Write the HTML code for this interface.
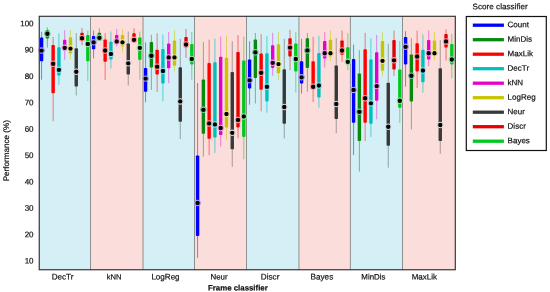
<!DOCTYPE html><html><head><meta charset="utf-8"><title>Boxplot</title>
<style>html,body{margin:0;padding:0;background:#fff}svg{display:block}text{font-family:"Liberation Sans",sans-serif;fill:#111;stroke:#111;stroke-width:0.2px;text-rendering:geometricPrecision}</style></head><body>
<svg width="550" height="292" viewBox="0 0 550 292">
<rect x="0" y="0" width="550" height="292" fill="#ffffff"/>
<rect x="39.00" y="16.30" width="51.50" height="253.45" fill="#d5eff6"/>
<rect x="90.50" y="16.30" width="52.50" height="253.45" fill="#fbdedb"/>
<rect x="143.00" y="16.30" width="51.50" height="253.45" fill="#d5eff6"/>
<rect x="194.50" y="16.30" width="52.00" height="253.45" fill="#fbdedb"/>
<rect x="246.50" y="16.30" width="52.45" height="253.45" fill="#d5eff6"/>
<rect x="298.95" y="16.30" width="51.45" height="253.45" fill="#fbdedb"/>
<rect x="350.40" y="16.30" width="52.10" height="253.45" fill="#d5eff6"/>
<rect x="402.50" y="16.30" width="52.80" height="253.45" fill="#fbdedb"/>
<line x1="90.50" y1="16.30" x2="90.50" y2="269.75" stroke="#858585" stroke-width="0.9"/>
<line x1="143.00" y1="16.30" x2="143.00" y2="269.75" stroke="#858585" stroke-width="0.9"/>
<line x1="194.50" y1="16.30" x2="194.50" y2="269.75" stroke="#858585" stroke-width="0.9"/>
<line x1="246.50" y1="16.30" x2="246.50" y2="269.75" stroke="#858585" stroke-width="0.9"/>
<line x1="298.95" y1="16.30" x2="298.95" y2="269.75" stroke="#858585" stroke-width="0.9"/>
<line x1="350.40" y1="16.30" x2="350.40" y2="269.75" stroke="#858585" stroke-width="0.9"/>
<line x1="402.50" y1="16.30" x2="402.50" y2="269.75" stroke="#858585" stroke-width="0.9"/>
<line x1="41.59" y1="31.80" x2="41.59" y2="79.70" stroke="#0000ff" stroke-opacity="0.47" stroke-width="1"/>
<rect x="39.89" y="37.50" width="3.40" height="23.70" rx="0.8" fill="#0000ff"/>
<line x1="47.37" y1="27.40" x2="47.37" y2="47.60" stroke="#088a10" stroke-opacity="0.52" stroke-width="1"/>
<rect x="45.67" y="29.90" width="3.40" height="8.50" rx="0.8" fill="#088a10"/>
<line x1="53.14" y1="36.90" x2="53.14" y2="121.20" stroke="#ff0000" stroke-opacity="0.50" stroke-width="1"/>
<rect x="51.44" y="44.90" width="3.40" height="48.40" rx="0.8" fill="#ff0000"/>
<line x1="58.92" y1="33.30" x2="58.92" y2="84.80" stroke="#00bfc0" stroke-opacity="0.62" stroke-width="1"/>
<rect x="57.22" y="47.30" width="3.40" height="28.20" rx="0.8" fill="#00bfc0"/>
<line x1="64.70" y1="30.30" x2="64.70" y2="59.90" stroke="#e600cc" stroke-opacity="0.45" stroke-width="1"/>
<rect x="63.00" y="39.80" width="3.40" height="9.90" rx="0.8" fill="#e600cc"/>
<line x1="70.48" y1="29.90" x2="70.48" y2="59.30" stroke="#c8c400" stroke-opacity="0.52" stroke-width="1"/>
<rect x="68.78" y="37.30" width="3.40" height="16.20" rx="0.8" fill="#c8c400"/>
<line x1="76.26" y1="33.10" x2="76.26" y2="95.40" stroke="#383838" stroke-opacity="0.42" stroke-width="1"/>
<rect x="74.56" y="48.30" width="3.40" height="38.20" rx="0.8" fill="#383838"/>
<line x1="82.03" y1="28.00" x2="82.03" y2="45.20" stroke="#e80000" stroke-opacity="0.50" stroke-width="1"/>
<rect x="80.33" y="32.80" width="3.40" height="7.20" rx="0.8" fill="#e80000"/>
<line x1="87.81" y1="30.50" x2="87.81" y2="81.00" stroke="#00c81e" stroke-opacity="0.52" stroke-width="1"/>
<rect x="86.11" y="35.00" width="3.40" height="26.20" rx="0.8" fill="#00c81e"/>
<line x1="93.59" y1="30.50" x2="93.59" y2="58.30" stroke="#0000ff" stroke-opacity="0.47" stroke-width="1"/>
<rect x="91.89" y="35.90" width="3.40" height="13.40" rx="0.8" fill="#0000ff"/>
<line x1="99.37" y1="28.30" x2="99.37" y2="40.50" stroke="#088a10" stroke-opacity="0.52" stroke-width="1"/>
<rect x="97.67" y="32.80" width="3.40" height="6.70" rx="0.8" fill="#088a10"/>
<line x1="105.14" y1="33.10" x2="105.14" y2="80.00" stroke="#ff0000" stroke-opacity="0.50" stroke-width="1"/>
<rect x="103.44" y="39.50" width="3.40" height="22.30" rx="0.8" fill="#ff0000"/>
<line x1="110.92" y1="31.60" x2="110.92" y2="68.40" stroke="#00bfc0" stroke-opacity="0.62" stroke-width="1"/>
<rect x="109.22" y="41.70" width="3.40" height="17.80" rx="0.8" fill="#00bfc0"/>
<line x1="116.70" y1="29.00" x2="116.70" y2="46.50" stroke="#e600cc" stroke-opacity="0.45" stroke-width="1"/>
<rect x="115.00" y="35.00" width="3.40" height="8.90" rx="0.8" fill="#e600cc"/>
<line x1="122.48" y1="29.00" x2="122.48" y2="52.70" stroke="#c8c400" stroke-opacity="0.52" stroke-width="1"/>
<rect x="120.78" y="35.00" width="3.40" height="11.50" rx="0.8" fill="#c8c400"/>
<line x1="128.26" y1="31.60" x2="128.26" y2="85.50" stroke="#383838" stroke-opacity="0.42" stroke-width="1"/>
<rect x="126.56" y="43.50" width="3.40" height="31.00" rx="0.8" fill="#383838"/>
<line x1="134.03" y1="28.30" x2="134.03" y2="42.50" stroke="#e80000" stroke-opacity="0.50" stroke-width="1"/>
<rect x="132.33" y="33.30" width="3.40" height="8.10" rx="0.8" fill="#e80000"/>
<line x1="139.81" y1="31.60" x2="139.81" y2="79.70" stroke="#00c81e" stroke-opacity="0.52" stroke-width="1"/>
<rect x="138.11" y="37.50" width="3.40" height="22.40" rx="0.8" fill="#00c81e"/>
<line x1="145.59" y1="42.30" x2="145.59" y2="102.30" stroke="#0000ff" stroke-opacity="0.47" stroke-width="1"/>
<rect x="143.89" y="68.00" width="3.40" height="23.70" rx="0.8" fill="#0000ff"/>
<line x1="151.37" y1="34.80" x2="151.37" y2="89.90" stroke="#088a10" stroke-opacity="0.52" stroke-width="1"/>
<rect x="149.67" y="42.10" width="3.40" height="25.40" rx="0.8" fill="#088a10"/>
<line x1="157.14" y1="33.20" x2="157.14" y2="91.80" stroke="#ff0000" stroke-opacity="0.50" stroke-width="1"/>
<rect x="155.44" y="49.80" width="3.40" height="24.70" rx="0.8" fill="#ff0000"/>
<line x1="162.92" y1="34.40" x2="162.92" y2="101.40" stroke="#00bfc0" stroke-opacity="0.62" stroke-width="1"/>
<rect x="161.22" y="49.00" width="3.40" height="34.50" rx="0.8" fill="#00bfc0"/>
<line x1="168.70" y1="32.10" x2="168.70" y2="83.20" stroke="#e600cc" stroke-opacity="0.45" stroke-width="1"/>
<rect x="167.00" y="43.50" width="3.40" height="24.70" rx="0.8" fill="#e600cc"/>
<line x1="174.48" y1="30.30" x2="174.48" y2="71.50" stroke="#c8c400" stroke-opacity="0.52" stroke-width="1"/>
<rect x="172.78" y="40.50" width="3.40" height="25.20" rx="0.8" fill="#c8c400"/>
<line x1="180.26" y1="38.80" x2="180.26" y2="139.00" stroke="#383838" stroke-opacity="0.42" stroke-width="1"/>
<rect x="178.56" y="67.30" width="3.40" height="54.50" rx="0.8" fill="#383838"/>
<line x1="186.03" y1="29.00" x2="186.03" y2="57.90" stroke="#e80000" stroke-opacity="0.50" stroke-width="1"/>
<rect x="184.33" y="36.90" width="3.40" height="10.60" rx="0.8" fill="#e80000"/>
<line x1="191.81" y1="32.00" x2="191.81" y2="79.70" stroke="#00c81e" stroke-opacity="0.52" stroke-width="1"/>
<rect x="190.11" y="43.90" width="3.40" height="20.50" rx="0.8" fill="#00c81e"/>
<line x1="197.59" y1="83.00" x2="197.59" y2="257.90" stroke="#0000ff" stroke-opacity="0.47" stroke-width="1"/>
<rect x="195.89" y="155.50" width="3.40" height="80.50" rx="0.8" fill="#0000ff"/>
<line x1="203.37" y1="42.20" x2="203.37" y2="156.70" stroke="#088a10" stroke-opacity="0.52" stroke-width="1"/>
<rect x="201.67" y="79.50" width="3.40" height="54.30" rx="0.8" fill="#088a10"/>
<line x1="209.14" y1="39.70" x2="209.14" y2="155.20" stroke="#ff0000" stroke-opacity="0.50" stroke-width="1"/>
<rect x="207.44" y="63.10" width="3.40" height="75.70" rx="0.8" fill="#ff0000"/>
<line x1="214.92" y1="38.60" x2="214.92" y2="152.90" stroke="#00bfc0" stroke-opacity="0.62" stroke-width="1"/>
<rect x="213.22" y="62.30" width="3.40" height="75.20" rx="0.8" fill="#00bfc0"/>
<line x1="220.70" y1="36.50" x2="220.70" y2="146.50" stroke="#e600cc" stroke-opacity="0.45" stroke-width="1"/>
<rect x="219.00" y="56.80" width="3.40" height="78.20" rx="0.8" fill="#e600cc"/>
<line x1="226.48" y1="35.70" x2="226.48" y2="140.00" stroke="#c8c400" stroke-opacity="0.52" stroke-width="1"/>
<rect x="224.78" y="57.70" width="3.40" height="69.70" rx="0.8" fill="#c8c400"/>
<line x1="232.26" y1="41.20" x2="232.26" y2="166.90" stroke="#383838" stroke-opacity="0.42" stroke-width="1"/>
<rect x="230.56" y="72.10" width="3.40" height="77.10" rx="0.8" fill="#383838"/>
<line x1="238.03" y1="35.20" x2="238.03" y2="138.20" stroke="#e80000" stroke-opacity="0.50" stroke-width="1"/>
<rect x="236.33" y="52.00" width="3.40" height="75.40" rx="0.8" fill="#e80000"/>
<line x1="243.81" y1="36.70" x2="243.81" y2="159.30" stroke="#00c81e" stroke-opacity="0.52" stroke-width="1"/>
<rect x="242.11" y="60.50" width="3.40" height="76.40" rx="0.8" fill="#00c81e"/>
<line x1="249.59" y1="41.30" x2="249.59" y2="104.70" stroke="#0000ff" stroke-opacity="0.47" stroke-width="1"/>
<rect x="247.89" y="59.40" width="3.40" height="29.00" rx="0.8" fill="#0000ff"/>
<line x1="255.37" y1="33.00" x2="255.37" y2="103.50" stroke="#088a10" stroke-opacity="0.52" stroke-width="1"/>
<rect x="253.67" y="39.50" width="3.40" height="38.60" rx="0.8" fill="#088a10"/>
<line x1="261.14" y1="34.10" x2="261.14" y2="111.40" stroke="#ff0000" stroke-opacity="0.50" stroke-width="1"/>
<rect x="259.44" y="53.50" width="3.40" height="36.30" rx="0.8" fill="#ff0000"/>
<line x1="266.92" y1="35.90" x2="266.92" y2="112.70" stroke="#00bfc0" stroke-opacity="0.62" stroke-width="1"/>
<rect x="265.22" y="53.20" width="3.40" height="48.20" rx="0.8" fill="#00bfc0"/>
<line x1="272.70" y1="32.80" x2="272.70" y2="75.80" stroke="#e600cc" stroke-opacity="0.45" stroke-width="1"/>
<rect x="271.00" y="45.20" width="3.40" height="22.70" rx="0.8" fill="#e600cc"/>
<line x1="278.48" y1="32.10" x2="278.48" y2="80.20" stroke="#c8c400" stroke-opacity="0.52" stroke-width="1"/>
<rect x="276.78" y="44.30" width="3.40" height="29.00" rx="0.8" fill="#c8c400"/>
<line x1="284.26" y1="38.80" x2="284.26" y2="138.40" stroke="#383838" stroke-opacity="0.42" stroke-width="1"/>
<rect x="282.56" y="69.20" width="3.40" height="54.50" rx="0.8" fill="#383838"/>
<line x1="290.03" y1="29.90" x2="290.03" y2="70.10" stroke="#e80000" stroke-opacity="0.50" stroke-width="1"/>
<rect x="288.33" y="38.20" width="3.40" height="18.30" rx="0.8" fill="#e80000"/>
<line x1="295.81" y1="32.00" x2="295.81" y2="92.50" stroke="#00c81e" stroke-opacity="0.52" stroke-width="1"/>
<rect x="294.11" y="43.50" width="3.40" height="27.90" rx="0.8" fill="#00c81e"/>
<line x1="301.59" y1="38.80" x2="301.59" y2="93.70" stroke="#0000ff" stroke-opacity="0.47" stroke-width="1"/>
<rect x="299.89" y="61.20" width="3.40" height="22.30" rx="0.8" fill="#0000ff"/>
<line x1="307.37" y1="33.00" x2="307.37" y2="91.80" stroke="#088a10" stroke-opacity="0.52" stroke-width="1"/>
<rect x="305.67" y="38.20" width="3.40" height="29.70" rx="0.8" fill="#088a10"/>
<line x1="313.14" y1="36.70" x2="313.14" y2="102.00" stroke="#ff0000" stroke-opacity="0.50" stroke-width="1"/>
<rect x="311.44" y="61.20" width="3.40" height="26.80" rx="0.8" fill="#ff0000"/>
<line x1="318.92" y1="35.90" x2="318.92" y2="107.70" stroke="#00bfc0" stroke-opacity="0.62" stroke-width="1"/>
<rect x="317.22" y="52.90" width="3.40" height="44.60" rx="0.8" fill="#00bfc0"/>
<line x1="324.70" y1="32.10" x2="324.70" y2="67.50" stroke="#e600cc" stroke-opacity="0.45" stroke-width="1"/>
<rect x="323.00" y="41.00" width="3.40" height="17.60" rx="0.8" fill="#e600cc"/>
<line x1="330.48" y1="30.30" x2="330.48" y2="61.20" stroke="#c8c400" stroke-opacity="0.52" stroke-width="1"/>
<rect x="328.78" y="39.70" width="3.40" height="17.00" rx="0.8" fill="#c8c400"/>
<line x1="336.26" y1="38.20" x2="336.26" y2="133.30" stroke="#383838" stroke-opacity="0.42" stroke-width="1"/>
<rect x="334.56" y="65.40" width="3.40" height="53.60" rx="0.8" fill="#383838"/>
<line x1="342.03" y1="30.50" x2="342.03" y2="61.80" stroke="#e80000" stroke-opacity="0.50" stroke-width="1"/>
<rect x="340.33" y="40.50" width="3.40" height="14.30" rx="0.8" fill="#e80000"/>
<line x1="347.81" y1="33.10" x2="347.81" y2="70.10" stroke="#00c81e" stroke-opacity="0.52" stroke-width="1"/>
<rect x="346.11" y="47.20" width="3.40" height="17.20" rx="0.8" fill="#00c81e"/>
<line x1="353.59" y1="44.60" x2="353.59" y2="155.00" stroke="#0000ff" stroke-opacity="0.47" stroke-width="1"/>
<rect x="351.89" y="59.00" width="3.40" height="63.80" rx="0.8" fill="#0000ff"/>
<line x1="359.37" y1="50.20" x2="359.37" y2="171.60" stroke="#088a10" stroke-opacity="0.52" stroke-width="1"/>
<rect x="357.67" y="73.50" width="3.40" height="67.50" rx="0.8" fill="#088a10"/>
<line x1="365.14" y1="32.90" x2="365.14" y2="141.00" stroke="#ff0000" stroke-opacity="0.50" stroke-width="1"/>
<rect x="363.44" y="49.20" width="3.40" height="73.60" rx="0.8" fill="#ff0000"/>
<line x1="370.92" y1="38.20" x2="370.92" y2="137.10" stroke="#00bfc0" stroke-opacity="0.62" stroke-width="1"/>
<rect x="369.22" y="59.50" width="3.40" height="64.20" rx="0.8" fill="#00bfc0"/>
<line x1="376.70" y1="35.00" x2="376.70" y2="119.30" stroke="#e600cc" stroke-opacity="0.45" stroke-width="1"/>
<rect x="375.00" y="52.30" width="3.40" height="48.40" rx="0.8" fill="#e600cc"/>
<line x1="382.48" y1="32.10" x2="382.48" y2="76.50" stroke="#c8c400" stroke-opacity="0.52" stroke-width="1"/>
<rect x="380.78" y="41.00" width="3.40" height="29.70" rx="0.8" fill="#c8c400"/>
<line x1="388.26" y1="43.90" x2="388.26" y2="167.70" stroke="#383838" stroke-opacity="0.42" stroke-width="1"/>
<rect x="386.56" y="82.70" width="3.40" height="63.00" rx="0.8" fill="#383838"/>
<line x1="394.03" y1="30.50" x2="394.03" y2="75.80" stroke="#e80000" stroke-opacity="0.50" stroke-width="1"/>
<rect x="392.33" y="40.10" width="3.40" height="29.40" rx="0.8" fill="#e80000"/>
<line x1="399.81" y1="41.00" x2="399.81" y2="123.10" stroke="#00c81e" stroke-opacity="0.52" stroke-width="1"/>
<rect x="398.11" y="69.50" width="3.40" height="38.20" rx="0.8" fill="#00c81e"/>
<line x1="405.59" y1="31.20" x2="405.59" y2="86.70" stroke="#0000ff" stroke-opacity="0.47" stroke-width="1"/>
<rect x="403.89" y="36.90" width="3.40" height="27.50" rx="0.8" fill="#0000ff"/>
<line x1="411.37" y1="38.00" x2="411.37" y2="129.30" stroke="#088a10" stroke-opacity="0.52" stroke-width="1"/>
<rect x="409.67" y="54.40" width="3.40" height="47.10" rx="0.8" fill="#088a10"/>
<line x1="417.14" y1="30.50" x2="417.14" y2="88.00" stroke="#ff0000" stroke-opacity="0.50" stroke-width="1"/>
<rect x="415.44" y="43.30" width="3.40" height="28.10" rx="0.8" fill="#ff0000"/>
<line x1="422.92" y1="34.40" x2="422.92" y2="92.80" stroke="#00bfc0" stroke-opacity="0.62" stroke-width="1"/>
<rect x="421.22" y="49.70" width="3.40" height="32.60" rx="0.8" fill="#00bfc0"/>
<line x1="428.70" y1="30.50" x2="428.70" y2="66.30" stroke="#e600cc" stroke-opacity="0.45" stroke-width="1"/>
<rect x="427.00" y="40.10" width="3.40" height="19.40" rx="0.8" fill="#e600cc"/>
<line x1="434.48" y1="31.80" x2="434.48" y2="60.50" stroke="#c8c400" stroke-opacity="0.52" stroke-width="1"/>
<rect x="432.78" y="40.50" width="3.40" height="15.60" rx="0.8" fill="#c8c400"/>
<line x1="440.26" y1="40.10" x2="440.26" y2="153.70" stroke="#383838" stroke-opacity="0.42" stroke-width="1"/>
<rect x="438.56" y="68.20" width="3.40" height="72.80" rx="0.8" fill="#383838"/>
<line x1="446.03" y1="29.30" x2="446.03" y2="60.50" stroke="#e80000" stroke-opacity="0.50" stroke-width="1"/>
<rect x="444.33" y="34.10" width="3.40" height="13.40" rx="0.8" fill="#e80000"/>
<line x1="451.81" y1="33.70" x2="451.81" y2="78.40" stroke="#00c81e" stroke-opacity="0.52" stroke-width="1"/>
<rect x="450.11" y="43.90" width="3.40" height="20.50" rx="0.8" fill="#00c81e"/>
<circle cx="41.59" cy="50.60" r="2.7" fill="#000" stroke="#a8a0ff" stroke-width="1.05"/>
<circle cx="47.37" cy="33.70" r="2.7" fill="#000" stroke="#78cc98" stroke-width="1.05"/>
<circle cx="53.14" cy="63.70" r="2.7" fill="#000" stroke="#ff9c9c" stroke-width="1.05"/>
<circle cx="58.92" cy="69.80" r="2.7" fill="#000" stroke="#8ce4e8" stroke-width="1.05"/>
<circle cx="64.70" cy="47.80" r="2.7" fill="#000" stroke="#f79ae8" stroke-width="1.05"/>
<circle cx="70.48" cy="48.60" r="2.7" fill="#000" stroke="#ece890" stroke-width="1.05"/>
<circle cx="76.26" cy="71.70" r="2.7" fill="#000" stroke="#d4d4d4" stroke-width="1.05"/>
<circle cx="82.03" cy="38.20" r="2.7" fill="#000" stroke="#ff9c9c" stroke-width="1.05"/>
<circle cx="87.81" cy="43.90" r="2.7" fill="#000" stroke="#90e8a0" stroke-width="1.05"/>
<circle cx="93.59" cy="42.30" r="2.7" fill="#000" stroke="#a8a0ff" stroke-width="1.05"/>
<circle cx="99.37" cy="37.80" r="2.7" fill="#000" stroke="#78cc98" stroke-width="1.05"/>
<circle cx="105.14" cy="50.50" r="2.7" fill="#000" stroke="#ff9c9c" stroke-width="1.05"/>
<circle cx="110.92" cy="53.90" r="2.7" fill="#000" stroke="#8ce4e8" stroke-width="1.05"/>
<circle cx="116.70" cy="41.40" r="2.7" fill="#000" stroke="#f79ae8" stroke-width="1.05"/>
<circle cx="122.48" cy="42.30" r="2.7" fill="#000" stroke="#ece890" stroke-width="1.05"/>
<circle cx="128.26" cy="63.30" r="2.7" fill="#000" stroke="#d4d4d4" stroke-width="1.05"/>
<circle cx="134.03" cy="39.80" r="2.7" fill="#000" stroke="#ff9c9c" stroke-width="1.05"/>
<circle cx="139.81" cy="47.80" r="2.7" fill="#000" stroke="#90e8a0" stroke-width="1.05"/>
<circle cx="145.59" cy="78.60" r="2.7" fill="#000" stroke="#a8a0ff" stroke-width="1.05"/>
<circle cx="151.37" cy="55.70" r="2.7" fill="#000" stroke="#78cc98" stroke-width="1.05"/>
<circle cx="157.14" cy="66.70" r="2.7" fill="#000" stroke="#ff9c9c" stroke-width="1.05"/>
<circle cx="162.92" cy="71.00" r="2.7" fill="#000" stroke="#8ce4e8" stroke-width="1.05"/>
<circle cx="168.70" cy="57.40" r="2.7" fill="#000" stroke="#f79ae8" stroke-width="1.05"/>
<circle cx="174.48" cy="57.40" r="2.7" fill="#000" stroke="#ece890" stroke-width="1.05"/>
<circle cx="180.26" cy="101.40" r="2.7" fill="#000" stroke="#d4d4d4" stroke-width="1.05"/>
<circle cx="186.03" cy="44.50" r="2.7" fill="#000" stroke="#ff9c9c" stroke-width="1.05"/>
<circle cx="191.81" cy="59.00" r="2.7" fill="#000" stroke="#90e8a0" stroke-width="1.05"/>
<circle cx="197.59" cy="203.00" r="2.7" fill="#000" stroke="#a8a0ff" stroke-width="1.05"/>
<circle cx="203.37" cy="109.80" r="2.7" fill="#000" stroke="#78cc98" stroke-width="1.05"/>
<circle cx="209.14" cy="123.40" r="2.7" fill="#000" stroke="#ff9c9c" stroke-width="1.05"/>
<circle cx="214.92" cy="124.40" r="2.7" fill="#000" stroke="#8ce4e8" stroke-width="1.05"/>
<circle cx="220.70" cy="128.00" r="2.7" fill="#000" stroke="#f79ae8" stroke-width="1.05"/>
<circle cx="226.48" cy="114.00" r="2.7" fill="#000" stroke="#ece890" stroke-width="1.05"/>
<circle cx="232.26" cy="132.80" r="2.7" fill="#000" stroke="#d4d4d4" stroke-width="1.05"/>
<circle cx="238.03" cy="119.90" r="2.7" fill="#000" stroke="#ff9c9c" stroke-width="1.05"/>
<circle cx="243.81" cy="116.40" r="2.7" fill="#000" stroke="#90e8a0" stroke-width="1.05"/>
<circle cx="249.59" cy="80.30" r="2.7" fill="#000" stroke="#a8a0ff" stroke-width="1.05"/>
<circle cx="255.37" cy="52.30" r="2.7" fill="#000" stroke="#78cc98" stroke-width="1.05"/>
<circle cx="261.14" cy="72.70" r="2.7" fill="#000" stroke="#ff9c9c" stroke-width="1.05"/>
<circle cx="266.92" cy="86.70" r="2.7" fill="#000" stroke="#8ce4e8" stroke-width="1.05"/>
<circle cx="272.70" cy="62.80" r="2.7" fill="#000" stroke="#f79ae8" stroke-width="1.05"/>
<circle cx="278.48" cy="64.10" r="2.7" fill="#000" stroke="#ece890" stroke-width="1.05"/>
<circle cx="284.26" cy="107.00" r="2.7" fill="#000" stroke="#d4d4d4" stroke-width="1.05"/>
<circle cx="290.03" cy="47.60" r="2.7" fill="#000" stroke="#ff9c9c" stroke-width="1.05"/>
<circle cx="295.81" cy="59.00" r="2.7" fill="#000" stroke="#90e8a0" stroke-width="1.05"/>
<circle cx="301.59" cy="77.30" r="2.7" fill="#000" stroke="#a8a0ff" stroke-width="1.05"/>
<circle cx="307.37" cy="50.40" r="2.7" fill="#000" stroke="#78cc98" stroke-width="1.05"/>
<circle cx="313.14" cy="86.70" r="2.7" fill="#000" stroke="#ff9c9c" stroke-width="1.05"/>
<circle cx="318.92" cy="85.50" r="2.7" fill="#000" stroke="#8ce4e8" stroke-width="1.05"/>
<circle cx="324.70" cy="53.20" r="2.7" fill="#000" stroke="#f79ae8" stroke-width="1.05"/>
<circle cx="330.48" cy="53.20" r="2.7" fill="#000" stroke="#ece890" stroke-width="1.05"/>
<circle cx="336.26" cy="104.00" r="2.7" fill="#000" stroke="#d4d4d4" stroke-width="1.05"/>
<circle cx="342.03" cy="50.50" r="2.7" fill="#000" stroke="#ff9c9c" stroke-width="1.05"/>
<circle cx="347.81" cy="61.80" r="2.7" fill="#000" stroke="#90e8a0" stroke-width="1.05"/>
<circle cx="353.59" cy="89.90" r="2.7" fill="#000" stroke="#a8a0ff" stroke-width="1.05"/>
<circle cx="359.37" cy="111.80" r="2.7" fill="#000" stroke="#78cc98" stroke-width="1.05"/>
<circle cx="365.14" cy="98.20" r="2.7" fill="#000" stroke="#ff9c9c" stroke-width="1.05"/>
<circle cx="370.92" cy="103.30" r="2.7" fill="#000" stroke="#8ce4e8" stroke-width="1.05"/>
<circle cx="376.70" cy="86.10" r="2.7" fill="#000" stroke="#f79ae8" stroke-width="1.05"/>
<circle cx="382.48" cy="60.80" r="2.7" fill="#000" stroke="#ece890" stroke-width="1.05"/>
<circle cx="388.26" cy="126.70" r="2.7" fill="#000" stroke="#d4d4d4" stroke-width="1.05"/>
<circle cx="394.03" cy="60.30" r="2.7" fill="#000" stroke="#ff9c9c" stroke-width="1.05"/>
<circle cx="399.81" cy="100.70" r="2.7" fill="#000" stroke="#90e8a0" stroke-width="1.05"/>
<circle cx="405.59" cy="46.80" r="2.7" fill="#000" stroke="#a8a0ff" stroke-width="1.05"/>
<circle cx="411.37" cy="75.70" r="2.7" fill="#000" stroke="#78cc98" stroke-width="1.05"/>
<circle cx="417.14" cy="56.50" r="2.7" fill="#000" stroke="#ff9c9c" stroke-width="1.05"/>
<circle cx="422.92" cy="70.50" r="2.7" fill="#000" stroke="#8ce4e8" stroke-width="1.05"/>
<circle cx="428.70" cy="53.20" r="2.7" fill="#000" stroke="#f79ae8" stroke-width="1.05"/>
<circle cx="434.48" cy="53.20" r="2.7" fill="#000" stroke="#ece890" stroke-width="1.05"/>
<circle cx="440.26" cy="125.00" r="2.7" fill="#000" stroke="#d4d4d4" stroke-width="1.05"/>
<circle cx="446.03" cy="41.40" r="2.7" fill="#000" stroke="#ff9c9c" stroke-width="1.05"/>
<circle cx="451.81" cy="59.50" r="2.7" fill="#000" stroke="#90e8a0" stroke-width="1.05"/>
<rect x="39.25" y="16.30" width="416.05" height="253.45" fill="none" stroke="#303030" stroke-width="1.15"/>
<text x="33.55" y="26.20" font-size="8" text-anchor="end" transform="rotate(0.03 34 26.20)">100</text>
<text x="33.55" y="52.57" font-size="8" text-anchor="end" transform="rotate(0.03 34 52.57)">90</text>
<text x="33.55" y="78.94" font-size="8" text-anchor="end" transform="rotate(0.03 34 78.94)">80</text>
<text x="33.55" y="105.31" font-size="8" text-anchor="end" transform="rotate(0.03 34 105.31)">70</text>
<text x="33.55" y="131.68" font-size="8" text-anchor="end" transform="rotate(0.03 34 131.68)">60</text>
<text x="33.55" y="158.05" font-size="8" text-anchor="end" transform="rotate(0.03 34 158.05)">50</text>
<text x="33.55" y="184.42" font-size="8" text-anchor="end" transform="rotate(0.03 34 184.42)">40</text>
<text x="33.55" y="210.79" font-size="8" text-anchor="end" transform="rotate(0.03 34 210.79)">30</text>
<text x="33.55" y="237.16" font-size="8" text-anchor="end" transform="rotate(0.03 34 237.16)">20</text>
<text x="33.55" y="263.53" font-size="8" text-anchor="end" transform="rotate(0.03 34 263.53)">10</text>
<text transform="translate(9.0,150.75) rotate(-90)" font-size="8.1" text-anchor="middle">Performance (%)</text>
<text x="62.60" y="279.60" font-size="8.15" text-anchor="middle" transform="rotate(0.03 62.60 279.60)">DecTr</text>
<text x="114.10" y="279.60" font-size="7.65" text-anchor="middle" transform="rotate(0.03 114.10 279.60)">kNN</text>
<text x="165.50" y="279.60" font-size="8.05" text-anchor="middle" transform="rotate(0.03 165.50 279.60)">LogReg</text>
<text x="219.10" y="279.60" font-size="7.9" text-anchor="middle" transform="rotate(0.03 219.10 279.60)">Neur</text>
<text x="270.10" y="279.60" font-size="8.15" text-anchor="middle" transform="rotate(0.03 270.10 279.60)">Discr</text>
<text x="321.90" y="279.60" font-size="8.2" text-anchor="middle" transform="rotate(0.03 321.90 279.60)">Bayes</text>
<text x="373.40" y="279.60" font-size="7.9" text-anchor="middle" transform="rotate(0.03 373.40 279.60)">MinDis</text>
<text x="424.30" y="279.60" font-size="8.0" text-anchor="middle" transform="rotate(0.03 424.30 279.60)">MaxLik</text>
<text x="237.90" y="290.50" font-size="7.85" text-anchor="middle" font-weight="bold" transform="rotate(0.03 237.90 290.50)">Frame classifier</text>
<text x="472.60" y="9.30" font-size="8.15" text-anchor="start" transform="rotate(0.03 472.60 9.30)">Score classifier</text>
<rect x="466.3" y="16.5" width="80.0" height="134" fill="#fff" stroke="#111" stroke-width="1.2"/>
<line x1="472.8" y1="25.20" x2="503.9" y2="25.20" stroke="#0000ff" stroke-width="3.3"/>
<text x="507.60" y="27.20" font-size="8" text-anchor="start" transform="rotate(0.03 507.60 27.20)">Count</text>
<line x1="472.8" y1="39.70" x2="503.9" y2="39.70" stroke="#088a10" stroke-width="3.3"/>
<text x="507.60" y="41.70" font-size="8" text-anchor="start" transform="rotate(0.03 507.60 41.70)">MinDis</text>
<line x1="472.8" y1="54.20" x2="503.9" y2="54.20" stroke="#ff0000" stroke-width="3.3"/>
<text x="507.60" y="56.20" font-size="8" text-anchor="start" transform="rotate(0.03 507.60 56.20)">MaxLik</text>
<line x1="472.8" y1="68.70" x2="503.9" y2="68.70" stroke="#00bfc0" stroke-width="3.3"/>
<text x="507.60" y="70.70" font-size="8" text-anchor="start" transform="rotate(0.03 507.60 70.70)">DecTr</text>
<line x1="472.8" y1="83.20" x2="503.9" y2="83.20" stroke="#e600cc" stroke-width="3.3"/>
<text x="507.60" y="85.20" font-size="8" text-anchor="start" transform="rotate(0.03 507.60 85.20)">kNN</text>
<line x1="472.8" y1="97.70" x2="503.9" y2="97.70" stroke="#c8c400" stroke-width="3.3"/>
<text x="507.60" y="99.70" font-size="8" text-anchor="start" transform="rotate(0.03 507.60 99.70)">LogReg</text>
<line x1="472.8" y1="112.20" x2="503.9" y2="112.20" stroke="#383838" stroke-width="3.3"/>
<text x="507.60" y="114.20" font-size="8" text-anchor="start" transform="rotate(0.03 507.60 114.20)">Neur</text>
<line x1="472.8" y1="126.70" x2="503.9" y2="126.70" stroke="#e80000" stroke-width="3.3"/>
<text x="507.60" y="128.70" font-size="8" text-anchor="start" transform="rotate(0.03 507.60 128.70)">Discr</text>
<line x1="472.8" y1="141.20" x2="503.9" y2="141.20" stroke="#00c81e" stroke-width="3.3"/>
<text x="507.60" y="143.20" font-size="8" text-anchor="start" transform="rotate(0.03 507.60 143.20)">Bayes</text>
</svg></body></html>
